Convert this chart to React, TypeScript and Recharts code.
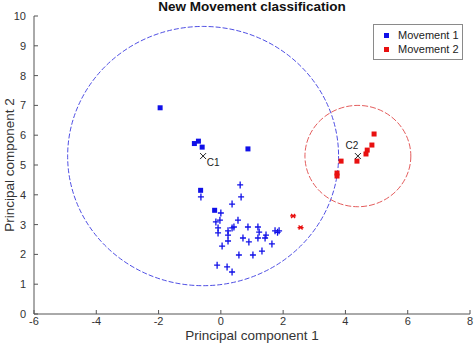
import { ScatterChart, Scatter, XAxis, YAxis, Legend } from "recharts";

const xTicks = [-6, -4, -2, 0, 2, 4, 6, 8];
const yTicks = [0, 1, 2, 3, 4, 5, 6, 7, 8, 9, 10];

const movement1Squares = [
  { x: -1.95, y: 6.92 },
  { x: -0.85, y: 5.72 },
  { x: -0.72, y: 5.8 },
  { x: -0.6, y: 5.6 },
  { x: 0.87, y: 5.54 },
  { x: -0.65, y: 4.15 },
  { x: -0.2, y: 3.48 }
];

const movement1Plus = [
  { x: 0.62, y: 4.33 }, { x: 0.65, y: 3.93 }, { x: -0.64, y: 3.93 },
  { x: 0.36, y: 3.69 }, { x: 0.0, y: 3.39 }, { x: -0.03, y: 3.15 },
  { x: -0.16, y: 3.09 }, { x: 0.55, y: 3.15 }, { x: -0.09, y: 2.89 },
  { x: -0.09, y: 2.72 }, { x: 0.23, y: 2.79 }, { x: 0.36, y: 2.89 },
  { x: 0.42, y: 2.92 }, { x: 0.23, y: 2.65 }, { x: 0.23, y: 2.45 },
  { x: 0.04, y: 2.28 }, { x: 0.71, y: 2.55 }, { x: 0.9, y: 2.42 },
  { x: 0.87, y: 2.92 }, { x: 1.19, y: 2.92 }, { x: 1.23, y: 2.75 },
  { x: 1.19, y: 2.55 }, { x: 1.42, y: 2.55 }, { x: 1.45, y: 2.65 },
  { x: 1.64, y: 2.35 }, { x: 1.32, y: 2.11 }, { x: 1.03, y: 1.98 },
  { x: 0.58, y: 1.98 }, { x: 1.74, y: 2.79 }, { x: 1.87, y: 2.79 },
  { x: 1.82, y: 2.74 }, { x: -0.12, y: 1.64 }, { x: 0.2, y: 1.58 },
  { x: 0.36, y: 1.41 }
];

const movement2Squares = [
  { x: 4.92, y: 6.04 },
  { x: 4.85, y: 5.67 },
  { x: 4.7, y: 5.5 },
  { x: 4.66, y: 5.37 },
  { x: 4.37, y: 5.13 },
  { x: 3.86, y: 5.13 },
  { x: 3.73, y: 4.73 },
  { x: 3.73, y: 4.63 }
];

const movement2Stars = [
  { x: 2.32, y: 3.29 },
  { x: 2.56, y: 2.9 }
];

const centroids = [
  { x: -0.57, y: 5.3, label: "C1", r: 4.35 },
  { x: 4.4, y: 5.3, label: "C2", r: 1.7 }
];

const BLUE = "#1010e8";
const RED = "#e81010";

// plot area size -> px per data unit, used for the cluster circles
const PX_X = 436 / 14;
const PX_Y = 298 / 10;

const Square = (color: string) => (p: any) => (
  <rect x={p.cx - 2.5} y={p.cy - 2.5} width={5} height={5} fill={color} />
);

const Plus = (color: string) => (p: any) => (
  <path
    d={`M${p.cx - 3},${p.cy}H${p.cx + 3}M${p.cx},${p.cy - 3.5}V${p.cy + 3.5}`}
    stroke={color}
    strokeWidth={1.3}
    fill="none"
  />
);

const Star = (color: string) => (p: any) => (
  <path
    d={`M${p.cx - 3},${p.cy}H${p.cx + 3}M${p.cx - 2},${p.cy - 2}L${p.cx + 2},${p.cy + 2}M${p.cx - 2},${p.cy + 2}L${p.cx + 2},${p.cy - 2}`}
    stroke={color}
    strokeWidth={1.3}
    fill="none"
  />
);

const Centroid = (p: any) => {
  const isC1 = p.payload.label === "C1";
  return (
    <g>
      <path
        d={`M${p.cx - 3},${p.cy - 3}L${p.cx + 3},${p.cy + 3}M${p.cx - 3},${p.cy + 3}L${p.cx + 3},${p.cy - 3}`}
        stroke="#222"
        strokeWidth={1}
      />
      <text
        x={p.cx + (isC1 ? 10 : -6)}
        y={p.cy + (isC1 ? 10 : -7)}
        textAnchor="middle"
        fontSize={10}
        fill="#222"
      >
        {p.payload.label}
      </text>
    </g>
  );
};

const ClusterCircle = (p: any) => {
  const isC1 = p.payload.label === "C1";
  return (
    <ellipse
      cx={p.cx}
      cy={p.cy}
      rx={p.payload.r * PX_X}
      ry={p.payload.r * PX_Y}
      fill="none"
      stroke={isC1 ? "#3a3ae0" : "#e04a4a"}
      strokeWidth={0.9}
      strokeDasharray={isC1 ? "5 2" : "6 2"}
    />
  );
};

const LegendBox = () => (
  <div
    style={{
      border: "1px solid #8a8a8a",
      background: "#fff",
      width: 88,
      padding: "3px 0 3px 0",
      fontSize: 11,
      color: "#222",
      fontFamily: "'Liberation Sans', Arial, sans-serif"
    }}
  >
    {[
      { name: "Movement 1", color: BLUE },
      { name: "Movement 2", color: RED }
    ].map((it) => (
      <div key={it.name} style={{ display: "flex", alignItems: "center", height: 14 }}>
        <span
          style={{ width: 5, height: 5, background: it.color, marginLeft: 10, marginRight: 9 }}
        />
        <span>{it.name}</span>
      </div>
    ))}
  </div>
);

export default function App() {
  const tickStyle = { fontSize: 11, fill: "#333" };
  return (
    <div style={{ position: "absolute", left: 0, top: 0, width: 474, height: 353, background: "#fff" }}>
      <div
        style={{
          position: "absolute",
          left: 0,
          top: -1,
          width: 504,
          lineHeight: "15px",
          textAlign: "center",
          fontSize: 13.5,
          fontWeight: "bold",
          fontFamily: "'Liberation Sans', Arial, sans-serif",
          color: "#111",
          zIndex: 2
        }}
      >
        New Movement classification
      </div>
      <ScatterChart
        width={474}
        height={353}
        margin={{ top: 16, right: 4, bottom: 0, left: 0 }}
        style={{ fontFamily: "'Liberation Sans', Arial, sans-serif" }}
      >
        <XAxis
          type="number"
          dataKey="x"
          domain={[-6, 8]}
          ticks={xTicks}
          allowDataOverflow
          height={39}
          stroke="#555"
          tick={tickStyle}
          tickSize={-4}
          tickMargin={7}
          label={{
            value: "Principal component 1",
            position: "insideBottom",
            offset: 13,
            fontSize: 13.5,
            fill: "#333"
          }}
        />
        <YAxis
          type="number"
          dataKey="y"
          domain={[0, 10]}
          ticks={yTicks}
          allowDataOverflow
          width={34}
          stroke="#555"
          tick={tickStyle}
          tickSize={-4}
          tickMargin={12}
          label={{
            value: "Principal component 2",
            angle: -90,
            position: "center",
            dx: -8,
            fontSize: 13.5,
            fill: "#333"
          }}
        />
        <Legend
          layout="horizontal"
          verticalAlign="middle"
          align="center"
          wrapperStyle={{ top: 24, left: 373, width: 90 }}
          content={() => <LegendBox />}
        />
        <Scatter data={centroids} shape={ClusterCircle} legendType="none" isAnimationActive={false} />
        <Scatter name="Movement 1" data={movement1Squares} fill={BLUE} shape={Square(BLUE)} isAnimationActive={false} />
        <Scatter data={movement1Plus} fill={BLUE} shape={Plus(BLUE)} legendType="none" isAnimationActive={false} />
        <Scatter name="Movement 2" data={movement2Squares} fill={RED} shape={Square(RED)} isAnimationActive={false} />
        <Scatter data={movement2Stars} fill={RED} shape={Star(RED)} legendType="none" isAnimationActive={false} />
        <Scatter data={centroids} shape={Centroid} legendType="none" isAnimationActive={false} />
      </ScatterChart>
    </div>
  );
}
